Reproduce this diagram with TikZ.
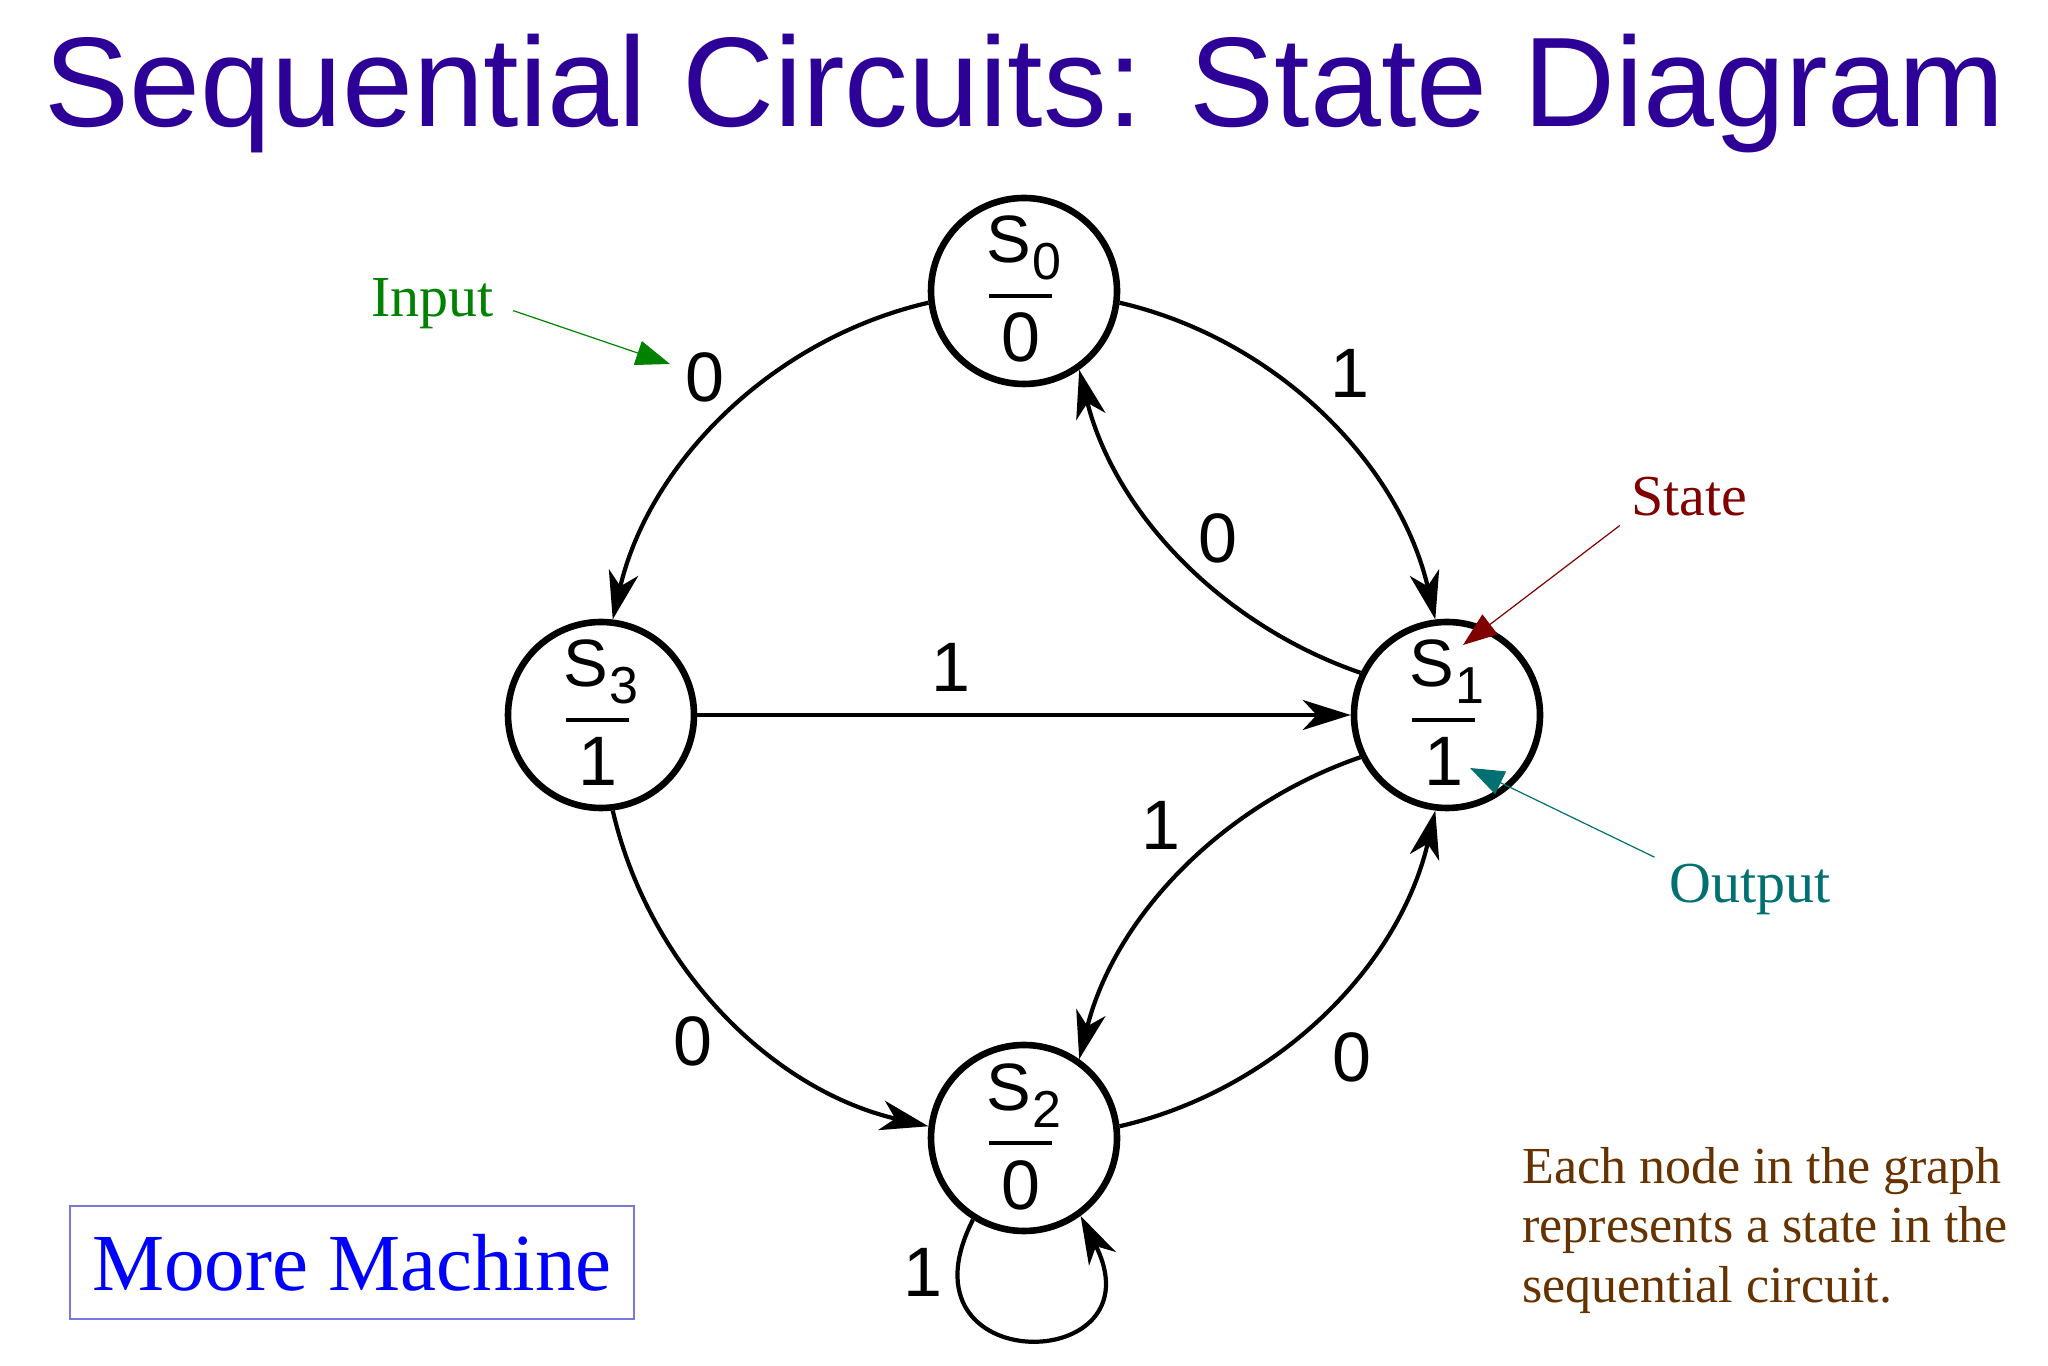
\documentclass[tikz,border=0pt]{standalone}
\usepackage{fontspec}
\setmainfont{Liberation Serif}
\newfontfamily\arialfont{Liberation Sans}
\usetikzlibrary{arrows.meta,calc}
\definecolor{titleblue}{RGB}{45,0,152}
\definecolor{ingreen}{RGB}{0,130,0}
\definecolor{stred}{RGB}{128,0,0}
\definecolor{outteal}{RGB}{0,112,112}
\definecolor{descbrown}{RGB}{102,51,0}
\definecolor{mooreframe}{RGB}{120,120,225}
\definecolor{mooreblue}{RGB}{0,0,255}
\newcommand\statetext[3]{%
  \node[stS] (#1s) at ($(#1)+(-38,28)$) {S};
  \node[stsub] (#1i) at ($(#1)+(8,11)$) {#2};
  \draw[stbar] ($(#1)+(-35,-5)$) -- ($(#1)+(28,-5)$);
  \node[stout] (#1o) at ($(#1)+(-3,-71)$) {#3};
}
\begin{document}
\begin{tikzpicture}[x=0.5pt,y=0.5pt,
  state/.style={circle, draw, line width=3.3pt, minimum size=93pt, inner sep=0pt},
  stS/.style={font=\arialfont\fontsize{33.5}{33.5}\selectfont, inner sep=0pt, anchor=base west},
  stsub/.style={font=\arialfont\fontsize{26}{26}\selectfont, inner sep=0pt, anchor=base west},
  stout/.style={font=\arialfont\fontsize{35}{35}\selectfont, inner sep=0pt, anchor=base},
  stbar/.style={line width=2pt},
  edge/.style={line width=2.1pt, -{Stealth[length=24pt,width=15pt,inset=7pt]}},
  elabel/.style={font=\arialfont\fontsize{35}{35}\selectfont, inner sep=0pt},
  ann/.style={font=\fontsize{29}{29}\selectfont, inner sep=0pt, anchor=base west},
  pointer/.style={line width=0.6pt, -{Triangle[length=17pt,width=12.5pt]}},
  desc/.style={font=\fontsize{26}{26}\selectfont, inner sep=0pt, anchor=base west, text=descbrown}]
\useasboundingbox[fill=white] (0,0) rectangle (2048,1365);

% title
\node[font=\arialfont\fontsize{63.75}{63.75}\selectfont, text=titleblue, inner sep=0pt, anchor=base west] (title) at (44,1238) {Sequential Circuits: State Diagram};

% states
\node[state] (S0) at (1024,1074) {};
\node[state] (S1) at (1447,650) {};
\node[state] (S2) at (1024,227) {};
\node[state] (S3) at (601,650) {};
\statetext{S0}{0}{0}
\statetext{S1}{1}{1}
\statetext{S2}{2}{0}
\statetext{S3}{3}{1}

% transitions
\draw[edge] (S0.187) to[out=193, in=77, looseness=0.92] (S3.83);
\draw[edge] (S0.353) to[out=347, in=103, looseness=0.92] (S1.97);
\draw[edge] (S3.277) to[out=283, in=167, looseness=0.92] (S2.173);
\draw[edge] (S2.7) to[out=13, in=257, looseness=0.92] (S1.263);
\draw[edge] (S1.154) to[out=161, in=284, looseness=0.91] (S0.305);
\draw[edge] (S1.206) to[out=199, in=76, looseness=0.91] (S2.55);
\draw[edge] (S3) -- (S1);
\draw[edge] (S2.238) .. controls +(243:180) and +(297:180) .. (S2.306);

% transition labels
\node[elabel] (l03) at (705,988) {0};
\node[elabel] (l01) at (1350,992) {1};
\node[elabel] (l10) at (1218,827) {0};
\node[elabel] (l31) at (951,698) {1};
\node[elabel] (l12) at (1161,540) {1};
\node[elabel] (l32) at (693,324) {0};
\node[elabel] (l21) at (1352,308) {0};
\node[elabel] (l22) at (923,93) {1};

% annotations
\node[ann, text=ingreen] (input) at (371,1048) {Input};
\coordinate (inTip) at (670,1001);
\draw[pointer, ingreen, shorten <=10pt] (input.east) -- (inTip);

\node[ann, text=stred] (stlab) at (1631,849) {State};
\coordinate (stTip) at (1463,720);
\draw[pointer, stred, shorten <=7pt] (stlab.south west) -- (stTip);

\node[ann, text=outteal] (outlab) at (1669,462) {Output};
\coordinate (outTip) at (1470,597);
\draw[pointer, outteal, shorten <=8pt] (outlab.north west) -- (outTip);

\node[desc] (d1) at (1522,182) {Each node in the graph};
\node[desc] (d2) at (1522,123) {represents a state in the};
\node[desc] (d3) at (1522,63) {sequential circuit.};

\node[draw=mooreframe, line width=0.75pt, minimum width=282pt, minimum height=56.5pt, inner sep=0pt,
  font=\fontsize{40.5}{40.5}\selectfont, text=mooreblue] (moore) at (352,102.5) {Moore Machine};
\end{tikzpicture}
\end{document}
